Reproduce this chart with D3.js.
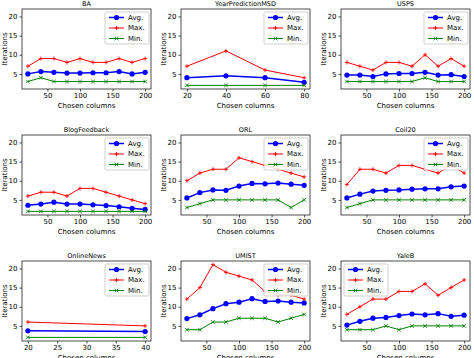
<!DOCTYPE html>
<html><head><meta charset="utf-8">
<script src="https://cdn.jsdelivr.net/npm/d3@7"></script>
<style>body{margin:0;background:#fff}svg{display:block}text{font-family:"DejaVu Sans",sans-serif}</style>
</head><body><svg id="c" width="474" height="358"></svg>
<script>
const xs20 = [20,40,60,80,100,120,140,160,180,200];
const xsYear = [20,40,60,80];
const xsNews = [20,40];
const ticks20 = [50,100,150,200];
const ticksYear = [20,40,60,80];
const ticksNews = [20,25,30,35,40];
const yTicks = [5,10,15,20];
const seriesNames = ["Avg.","Max.","Min."];
const titles = ["BA","YearPredictionMSD","USPS","BlogFeedback","ORL","Coil20","OnlineNews","UMIST","YaleB"];

const baAvg = [5,5.6,5.4,5.2,5.2,5.3,5.3,5.6,5,5.4];
const baMax = [7,9,9,8,9,8,8,9,8,9];
const baMin = [3,4,3,3,3,3,3,3,3,3];
const yearAvg = [4,4.5,4,2.8];
const yearMax = [7,11,6,4];
const yearMin = [2,2,2,2];
const uspsAvg = [4.7,4.7,4.3,5,5.1,5.1,5.4,4.7,4.8,4.3];
const uspsMax = [8,7,6,8,8,7,10,7,9,7];
const uspsMin = [3,3,3,3,3,3,4,3,3,3];
const blogAvg = [3.6,3.9,4.4,3.9,3.9,3.7,3.5,3.2,2.8,2.5];
const blogMax = [6,7,7,6,8,8,7,6,5,4];
const blogMin = [2,2,2,2,2,2,2,2,2,2];
const orlAvg = [5.5,6.9,7.6,7.5,8.6,9.3,9.2,9.4,9.1,8.8];
const orlMax = [10,12,13,13,16,15,14,13,12,11];
const orlMin = [3,4,5,5,5,5,5,5,3,5];
const coilAvg = [5.5,6.5,7.3,7.5,7.6,7.8,7.9,7.9,8.4,8.6];
const coilMax = [9,13,13,12,14,14,13,12,14,12];
const coilMin = [3,4,5,5,5,5,5,5,5,5];
const newsAvg = [3.7,3.5];
const newsMax = [6,5];
const newsMin = [2,2];
const umistAvg = [6.9,7.9,9.5,10.8,11.2,12.1,11.4,11.5,11.2,11];
const umistMax = [12,15,21,19,18,17,14,13,13,12];
const umistMin = [4,4,6,6,7,7,7,6,7,8];
const yaleAvg = [5.2,6.2,7,7.2,7.7,8.1,7.9,8.2,7.5,7.8];
const yaleMax = [8,10,12,12,14,14,16,13,15,17];
const yaleMin = [4,4,4,5,4,5,5,5,5,5];

const panels = [
  {x:xs20, t:ticks20, s:[baAvg,baMax,baMin], leg:"right"},
  {x:xsYear, t:ticksYear, s:[yearAvg,yearMax,yearMin], leg:"right"},
  {x:xs20, t:ticks20, s:[uspsAvg,uspsMax,uspsMin], leg:"right"},
  {x:xs20, t:ticks20, s:[blogAvg,blogMax,blogMin], leg:"right"},
  {x:xs20, t:ticks20, s:[orlAvg,orlMax,orlMin], leg:"right"},
  {x:xs20, t:ticks20, s:[coilAvg,coilMax,coilMin], leg:"right"},
  {x:xsNews, t:ticksNews, s:[newsAvg,newsMax,newsMin], leg:"right"},
  {x:xs20, t:ticks20, s:[umistAvg,umistMax,umistMin], leg:"right"},
  {x:xs20, t:ticks20, s:[yaleAvg,yaleMax,yaleMin], leg:"left"}
];

const colors = ["#0000ff","#ff0000","#008000"];
const colX = [22,181,341], rowY = [9,135,261], W = 129, H = 80;
const FS = 7;
const svg = d3.select("#c");

function marker(g, type, cx, cy, col){
  if(type===0){
    g.append("circle").attr("cx",cx).attr("cy",cy).attr("r",2.6).attr("fill",col);
  } else if(type===1){
    const s=2;
    g.append("path").attr("d",`M${cx-s},${cy}H${cx+s}M${cx},${cy-s}V${cy+s}`).attr("stroke",col).attr("stroke-width",0.9);
  } else {
    const s=1.8;
    g.append("path").attr("d",`M${cx-s},${cy-s}L${cx+s},${cy+s}M${cx-s},${cy+s}L${cx+s},${cy-s}`).attr("stroke",col).attr("stroke-width",0.9);
  }
}

panels.forEach((p,i)=>{
  const c=i%3, r=Math.floor(i/3);
  const g = svg.append("g").attr("transform",`translate(${colX[c]},${rowY[r]})`);
  const xmin=d3.min(p.x), xmax=d3.max(p.x), pad=(xmax-xmin)*0.05;
  const x = d3.scaleLinear().domain([xmin-pad,xmax+pad]).range([0,W]);
  const y = d3.scaleLinear().domain([1.05,21.95]).range([H,0]);

  const xa = g.append("g").attr("transform",`translate(0,${H})`)
    .call(d3.axisBottom(x).tickValues(p.t).tickFormat(d3.format("d")).tickSize(2.5).tickPadding(2));
  const ya = g.append("g").call(d3.axisLeft(y).tickValues(yTicks).tickSize(2.5).tickPadding(2));
  [xa,ya].forEach(a=>{a.select(".domain").remove(); a.selectAll("line").attr("stroke","#000").attr("stroke-width",0.7);
    a.selectAll("text").attr("font-size",FS).attr("fill","#000").attr("font-family","DejaVu Sans");});

  p.s.forEach((vals,k)=>{
    const line = d3.line().x((d,j)=>x(p.x[j])).y(d=>y(d));
    g.append("path").attr("d",line(vals)).attr("fill","none").attr("stroke",colors[k]).attr("stroke-width",k===0?1.5:1);
    vals.forEach((v,j)=>marker(g,k,x(p.x[j]),y(v),colors[k]));
  });

  g.append("rect").attr("width",W).attr("height",H).attr("fill","none").attr("stroke","#222").attr("stroke-width",0.8);

  g.append("text").attr("x",W/2).attr("y",-3).attr("text-anchor","middle").attr("font-size",6.5).text(titles[i]);
  g.append("text").attr("x",W/2).attr("y",H+19).attr("text-anchor","middle").attr("font-size",FS).text("Chosen columns");
  g.append("text").attr("transform",`translate(-15,${H/2}) rotate(-90)`).attr("text-anchor","middle").attr("font-size",FS).text("Iterations");

  const lw=44, lh=32;
  const lx = p.leg==="right" ? W-lw-2 : 3, ly = 3;
  const lg = g.append("g").attr("transform",`translate(${lx},${ly})`);
  lg.append("rect").attr("width",lw).attr("height",lh).attr("rx",1.5).attr("fill","#fff").attr("fill-opacity",0.85).attr("stroke","#bbb").attr("stroke-width",0.7);
  seriesNames.forEach((n,k)=>{
    const yy = 5.5+k*10.5;
    lg.append("line").attr("x1",4).attr("x2",19).attr("y1",yy).attr("y2",yy).attr("stroke",colors[k]).attr("stroke-width",k===0?1.5:1);
    marker(lg,k,11.5,yy,colors[k]);
    lg.append("text").attr("x",23).attr("y",yy).attr("dy","0.35em").attr("font-size",FS).text(n);
  });
});
</script></body></html>
